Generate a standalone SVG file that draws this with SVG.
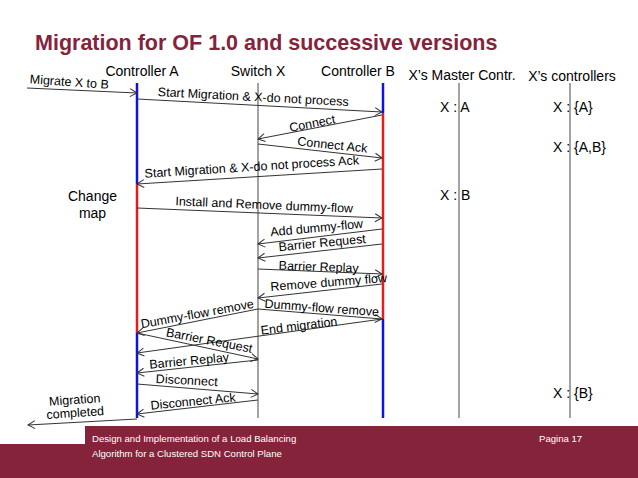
<svg xmlns="http://www.w3.org/2000/svg" width="638" height="478" viewBox="0 0 638 478">
<defs>
<marker id="arr" markerWidth="10" markerHeight="10" refX="8" refY="5" orient="auto" markerUnits="userSpaceOnUse">
<path d="M1,1 L8,5 L1,9" fill="none" stroke="#333" stroke-width="1"/>
</marker>
<style>
text{font-family:"Liberation Sans",Arial,sans-serif;fill:#000}
.title{font-size:21.5px;font-weight:bold;fill:#85233a}
.hdr{font-size:14px;text-anchor:middle}
.st{font-size:14px}
.lbl{font-size:12.5px;text-anchor:middle}
.foot{font-size:9.6px;fill:#fff}
.msg{stroke:#333;stroke-width:1;fill:none;marker-end:url(#arr)}
.gray{stroke:#8c8c8c;stroke-width:1.6}
.blue{stroke:#1010e0;stroke-width:2.5}
.red{stroke:#e51d1d;stroke-width:2.5}
</style>
</defs>
<rect width="638" height="478" fill="#fff"/>
<text class="title" x="35" y="50">Migration for OF 1.0 and successive versions</text>

<g id="controllerA">
<text class="hdr" x="142" y="76">Controller A</text>
<line class="blue" x1="137" y1="83" x2="137" y2="184"/>
<line class="red" x1="137" y1="184" x2="137" y2="333"/>
<line class="blue" x1="137" y1="333" x2="137" y2="418"/>
</g>
<g id="switchX">
<text class="hdr" x="258" y="76">Switch X</text>
<line class="gray" x1="258" y1="83" x2="258" y2="418"/>
</g>
<g id="controllerB">
<text class="hdr" x="358" y="76">Controller B</text>
<line class="blue" x1="383" y1="83" x2="383" y2="113"/>
<line class="red" x1="383" y1="113" x2="383" y2="319"/>
<line class="blue" x1="383" y1="319" x2="383" y2="418"/>
</g>
<g id="masterContr">
<text class="hdr" x="462" y="80">X’s Master Contr.</text>
<line class="gray" x1="459" y1="83" x2="459" y2="418"/>
<text class="st" x="440" y="112" xml:space="preserve">X : A</text>
<text class="st" x="440" y="200" xml:space="preserve">X : B</text>
</g>
<g id="xControllers">
<text class="hdr" x="572" y="81">X’s controllers</text>
<line class="gray" x1="570" y1="83" x2="570" y2="418"/>
<text class="st" x="553" y="112" xml:space="preserve">X : {A}</text>
<text class="st" x="553" y="152" xml:space="preserve">X : {A,B}</text>
<text class="st" x="553" y="398" xml:space="preserve">X : {B}</text>
</g>
<g id="changeMap">
<text class="hdr" x="92.5" y="201">Change</text>
<text class="hdr" x="92.5" y="218">map</text>
</g>
<g id="migrationCompleted">
<text class="lbl" transform="translate(75,404) rotate(-4)">Migration</text>
<text class="lbl" transform="translate(75.5,417) rotate(-4)">completed</text>
</g>

<g id="connectors">
<line class="msg" x1="27" y1="88" x2="137" y2="93"/>
<line class="msg" x1="137" y1="99" x2="382" y2="112"/>
<line class="msg" x1="382" y1="115" x2="258" y2="139"/>
<line class="msg" x1="258" y1="144" x2="382" y2="158"/>
<line class="msg" x1="382" y1="169" x2="137" y2="184"/>
<line class="msg" x1="137" y1="208" x2="382" y2="218"/>
<line class="msg" x1="382" y1="229" x2="258" y2="244"/>
<line class="msg" x1="382" y1="244" x2="258" y2="258"/>
<line class="msg" x1="258" y1="269" x2="382" y2="274"/>
<line class="msg" x1="382" y1="284" x2="258" y2="298"/>
<line class="msg" x1="258" y1="309" x2="137" y2="333"/>
<line class="msg" x1="258" y1="309" x2="382" y2="319"/>
<line class="msg" x1="382" y1="319" x2="137" y2="353"/>
<line class="msg" x1="137" y1="333" x2="258" y2="359"/>
<line class="msg" x1="258" y1="360" x2="137" y2="373"/>
<line class="msg" x1="137" y1="384" x2="258" y2="394"/>
<line class="msg" x1="258" y1="400" x2="137" y2="414"/>
<line class="msg" x1="137" y1="419" x2="28" y2="425"/>

<text class="lbl" transform="translate(69,86) rotate(4)">Migrate X to B</text>
<text class="lbl" transform="translate(253,101) rotate(3)">Start Migration &amp; X-do not process</text>
<text class="lbl" transform="translate(313,127.5) rotate(-11)">Connect</text>
<text class="lbl" transform="translate(332,149) rotate(6)">Connect Ack</text>
<text class="lbl" transform="translate(252,171) rotate(-3.6)">Start Migration &amp; X-do not process Ack</text>
<text class="lbl" transform="translate(264,209) rotate(2.4)">Install and Remove dummy-flow</text>
<text class="lbl" transform="translate(317,232) rotate(-5.3)">Add dummy-flow</text>
<text class="lbl" transform="translate(322.5,247) rotate(-5.5)">Barrier Request</text>
<text class="lbl" transform="translate(318.5,271) rotate(2)">Barrier Replay</text>
<text class="lbl" transform="translate(329,286.5) rotate(-4.5)">Remove dummy flow</text>
<text class="lbl" transform="translate(198,318) rotate(-10.4)">Dummy-flow remove</text>
<text class="lbl" transform="translate(321.5,312) rotate(4.2)">Dummy-flow remove</text>
<text class="lbl" transform="translate(299.5,330) rotate(-7)">End migration</text>
<text class="lbl" transform="translate(208.5,344.5) rotate(11)">Barrier Request</text>
<text class="lbl" transform="translate(189.5,365) rotate(-5.4)">Barrier Replay</text>
<text class="lbl" transform="translate(186.5,384.5) rotate(3)">Disconnect</text>
<text class="lbl" transform="translate(193.5,405.5) rotate(-5.6)">Disconnect Ack</text>
</g>

<g id="footer">
<rect x="85" y="426" width="553" height="52" fill="#85233a"/>
<rect x="0" y="444" width="85" height="34" fill="#85233a"/>
<text class="foot" x="92" y="442">Design and Implementation of a Load Balancing</text>
<text class="foot" x="92" y="457">Algorithm for a Clustered SDN Control Plane</text>
<text class="foot" x="539" y="442">Pagina 17</text>
</g>
</svg>
